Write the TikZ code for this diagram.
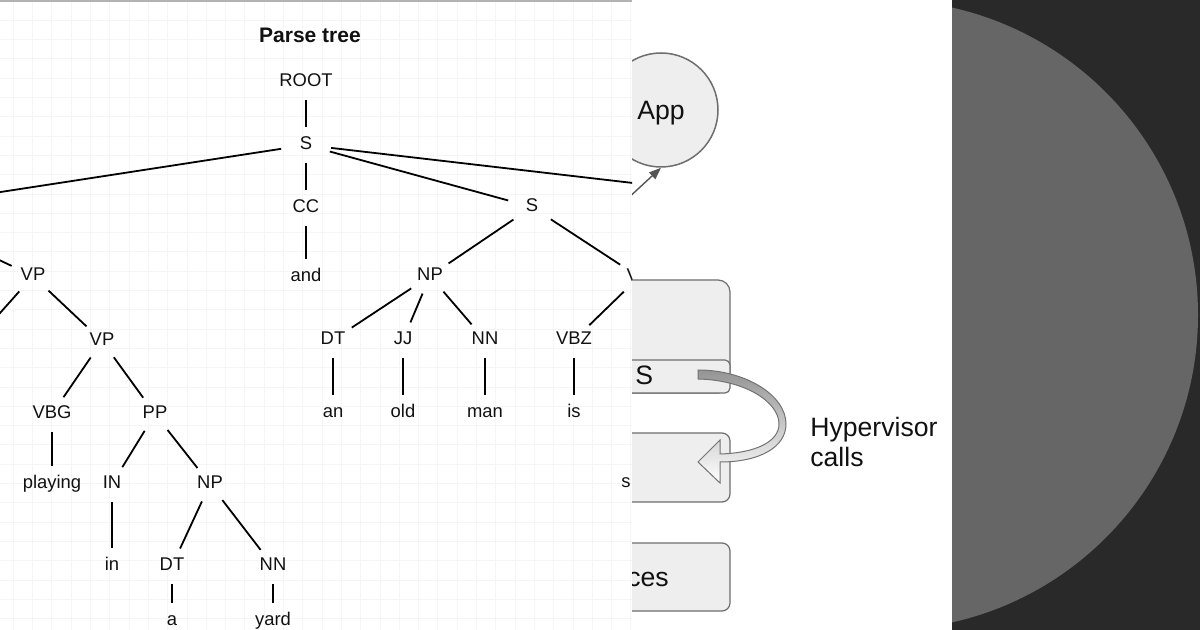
\documentclass[tikz,border=0pt]{standalone}
\usepackage{fontspec}
\setmainfont{Liberation Sans}
\usetikzlibrary{shapes.geometric,arrows.meta}
\definecolor{boxfill}{HTML}{EEEEEE}
\definecolor{boxline}{HTML}{6E6E6E}
\definecolor{darkbg}{HTML}{292929}
\definecolor{disc}{HTML}{666666}
\definecolor{gridc}{HTML}{F5F5F5}
\definecolor{ink}{HTML}{111111}
\definecolor{arrowc}{HTML}{555555}
\begin{document}
\begin{tikzpicture}[x=0.5pt,y=-0.5pt,
  tn/.style={shape=ellipse,inner sep=0pt,minimum width=25pt,minimum height=18pt,
    font=\fontsize{9.2}{10}\selectfont,text height=6.5pt,text depth=1.9pt,text=ink},
  tedge/.style={draw=black,line width=0.9pt},
  ptext/.style={inner sep=0pt,font=\fontsize{13.3}{15}\selectfont,text=ink},
  panelbox/.style={draw=boxline,fill=boxfill,line width=0.6pt}]
\useasboundingbox (0,0) rectangle (1200,630);
\fill[white] (0,0) rectangle (952,630);

% ---------------- panel 1: parse tree ----------------
\begin{scope}
\clip (0,0) rectangle (632,630);
\foreach \i in {0,...,32} {\draw[gridc,line width=0.5pt] ({13.3+19.3*\i},0) -- ({13.3+19.3*\i},630);}
\foreach \j in {0,...,32} {\draw[gridc,line width=0.5pt] (0,{1.1+19.3*\j}) -- (632,{1.1+19.3*\j});}
\draw[black!30,line width=1pt] (0,1) -- (632,1);

\node[inner sep=0pt,font=\bfseries\fontsize{10.5}{12}\selectfont,text=ink] (title) at (310,35) {Parse tree};
\node[tn] (root) at (306,82) {ROOT};
\node[tn] (s1) at (306,145) {S};
\node[tn] (cc) at (306,208) {CC};
\node[tn] (and) at (306,277) {and};
\node[tn] (s2) at (532,207) {S};
\node[tn] (np1) at (430,276) {NP};
\node[tn] (vp3) at (639,277) {VP};
\node[tn] (dt1) at (333,340) {DT};
\node[tn] (jj) at (403,340) {JJ};
\node[tn] (nn1) at (485,340) {NN};
\node[tn] (vbz) at (574,340) {VBZ};
\node[tn] (an) at (333,413) {an};
\node[tn] (old) at (403,413) {old};
\node[tn] (man) at (485,413) {man};
\node[tn] (is) at (574,413) {is};
\node[tn] (vp1) at (33,276) {VP};
\node[tn] (vp2) at (102,341) {VP};
\node[tn] (vbg) at (52,414) {VBG};
\node[tn] (pp) at (155,414) {PP};
\node[tn] (playing) at (52,484) {playing};
\node[tn] (in1) at (112,484) {IN};
\node[tn] (np2) at (210,484) {NP};
\node[tn] (inw) at (112,566) {in};
\node[tn] (dt2) at (172,566) {DT};
\node[tn] (nn2) at (273,566) {NN};
\node[tn] (a) at (172,621) {a};
\node[tn] (yard) at (273,621) {yard};
\node[tn] (frag) at (626,483) {s};
\coordinate (sl) at (-100,207.5);
\coordinate (sr) at (800,202.4);
\coordinate (vppar) at (-60,232);
\coordinate (vpch) at (-40,358);

\draw[tedge] (root) -- (s1);
\draw[tedge] (s1) -- (cc);
\draw[tedge] (cc) -- (and);
\draw[tedge] (s1) -- (sl);
\draw[tedge] (s1) -- (sr);
\draw[tedge] (s1) -- (s2);
\draw[tedge] (s2) -- (np1);
\draw[tedge] (s2) -- (vp3);
\draw[tedge] (np1) -- (dt1);
\draw[tedge] (np1) -- (jj);
\draw[tedge] (np1) -- (nn1);
\draw[tedge] (vp3) -- (vbz);
\draw[tedge] (dt1) -- (an);
\draw[tedge] (jj) -- (old);
\draw[tedge] (nn1) -- (man);
\draw[tedge] (vbz) -- (is);
\draw[tedge] (vppar) -- (vp1);
\draw[tedge] (vp1) -- (vpch);
\draw[tedge] (vp1) -- (vp2);
\draw[tedge] (vp2) -- (vbg);
\draw[tedge] (vp2) -- (pp);
\draw[tedge] (vbg) -- (playing);
\draw[tedge] (pp) -- (in1);
\draw[tedge] (pp) -- (np2);
\draw[tedge] (in1) -- (inw);
\draw[tedge] (np2) -- (dt2);
\draw[tedge] (np2) -- (nn2);
\draw[tedge] (dt2) -- (a);
\draw[tedge] (nn2) -- (yard);
\end{scope}

% ---------------- panel 2: hypervisor diagram ----------------
\begin{scope}
\clip (632,0) rectangle (952,630);
\node[circle,draw=boxline,fill=boxfill,line width=0.75pt,minimum size=57pt,inner sep=0pt,
  font=\fontsize{13.3}{15}\selectfont,text=ink,text depth=0pt] (app) at (661,110) {App};
\coordinate (appsrc) at (612,213);
\draw[arrowc,line width=0.7pt,-{Triangle[length=6pt,width=4.5pt]}] (appsrc) -- (app.south);

\draw[panelbox,rounded corners=6pt] (600,280) rectangle (730,393);
\draw[panelbox,rounded corners=2.5pt] (600,360) rectangle (730,393);
\node[ptext,anchor=base west] (os) at (635,385) {S};
\draw[panelbox,rounded corners=4pt] (600,433) rectangle (730,502);
\draw[panelbox,rounded corners=4pt] (600,543) rectangle (730,611);
\node[ptext,anchor=base west] (dev) at (627,587) {ces};

\path[top color=black!42,bottom color=white,draw=black!55,line width=0.5pt]
  (698,370) .. controls (745,370) and (786,395) .. (786,424)
  .. controls (786,447) and (760,462) .. (720,462)
  -- (720,483) -- (698,462) -- (720,440) -- (720,454)
  .. controls (755,453) and (779,442) .. (779,424)
  .. controls (779,402) and (745,380) .. (698,379) -- cycle;

\node[ptext,anchor=base west] (hv1) at (810,437) {Hypervisor};
\node[ptext,anchor=base west] (hv2) at (810,467) {calls};
\end{scope}

% ---------------- panel 3: dark slide with disc ----------------
\begin{scope}
\clip (952,0) rectangle (1200,630);
\fill[darkbg] (952,0) rectangle (1200,630);
\fill[disc] (883,315) circle[radius=315];
\end{scope}
\end{tikzpicture}
\end{document}
